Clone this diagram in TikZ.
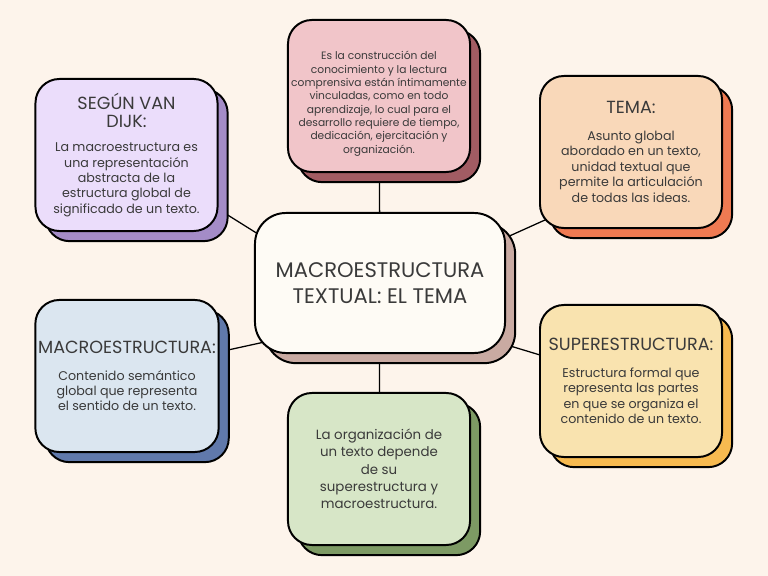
\documentclass[tikz,border=0pt]{standalone}
\usepackage{fontspec}
\setmainfont{Poppins}
\usetikzlibrary{shadows}
\definecolor{Paper}{HTML}{FDF4EB}
\definecolor{Ink}{HTML}{3A3A3A}
\definecolor{PinkCard}{HTML}{F1C5C9}
\definecolor{PinkBack}{HTML}{A25C63}
\definecolor{LilacCard}{HTML}{EBDDFB}
\definecolor{LilacBack}{HTML}{A48CC7}
\definecolor{PeachCard}{HTML}{F9D8B9}
\definecolor{PeachBack}{HTML}{EF7A52}
\definecolor{IvoryCard}{HTML}{FEFBF5}
\definecolor{IvoryBack}{HTML}{C9AAA2}
\definecolor{BlueCard}{HTML}{DBE6F0}
\definecolor{BlueBack}{HTML}{6079AB}
\definecolor{SandCard}{HTML}{F9E3AF}
\definecolor{SandBack}{HTML}{F7BA50}
\definecolor{SageCard}{HTML}{D7E6C7}
\definecolor{SageBack}{HTML}{7D9A64}
\pgfdeclarelayer{paper}
\pgfdeclarelayer{links}
\pgfsetlayers{paper,links,main}
\newcommand{\cardhead}{\fontsize{12.5}{13.5}\selectfont}

\begin{document}
\begin{tikzpicture}[
    x=0.025cm, y=-0.025cm,
    card/.style={draw=black, line width=1.4pt, rounded corners=17pt,
        minimum width=4.55cm, minimum height=3.8cm, inner sep=2pt,
        align=center, text=Ink, font=\fontsize{9}{11}\selectfont},
    cardback/.style={copy shadow={shadow xshift=7.2pt, shadow yshift=-7.2pt,
        fill=#1, draw=black, line width=1.4pt}},
    link/.style={draw=black, line width=0.9pt}
]
\begin{pgfonlayer}{paper}
    \fill[Paper] (0,0) rectangle (768,576);
\end{pgfonlayer}
\useasboundingbox (0,0) rectangle (768,576);

% centre
\node[card, cardback=IvoryBack, fill=IvoryCard, minimum width=6.25cm, minimum height=3.5cm,
      rounded corners=22pt, font=\fontsize{15}{18}\selectfont] (tema) at (380,283)
    {MACROESTRUCTURA\\TEXTUAL: EL TEMA};

% cards around it
\node[card, cardback=PinkBack, fill=PinkCard, font=\fontsize{7.6}{9.5}\selectfont] (lectura) at (379,96)
    {\rule{0pt}{17pt}Es la construcción del\\conocimiento y la lectura\\comprensiva están íntimamente\\vinculadas, como en todo\\aprendizaje, lo cual para el\\desarrollo requiere de tiempo,\\dedicación, ejercitación y\\organización.};
\node[card, cardback=LilacBack, fill=LilacCard] (vandijk) at (126.5,155)
    {\cardhead SEGÚN VAN\\[2pt]\cardhead DIJK:\\[6pt]La macroestructura es\\una representación\\abstracta de la\\estructura global de\\significado de un texto.};
\node[card, cardback=PeachBack, fill=PeachCard] (asunto) at (631,152)
    {\cardhead TEMA:\\[8pt]Asunto global\\abordado en un texto,\\unidad textual que\\permite la articulación\\de todas las ideas.};
\node[card, cardback=BlueBack, fill=BlueCard] (macro) at (127,376)
    {\cardhead MACROESTRUCTURA:\\[8pt]Contenido semántico\\global que representa\\el sentido de un texto.};
\node[card, cardback=SandBack, fill=SandCard] (super) at (631,381)
    {\cardhead SUPERESTRUCTURA:\\[8pt]Estructura formal que\\representa las partes\\en que se organiza el\\contenido de un texto.};
\node[card, cardback=SageBack, fill=SageCard, font=\fontsize{9.5}{12.3}\selectfont] (organiza) at (379,469)
    {La organización de\\un texto depende\\de su\\superestructura y\\macroestructura.};

% connectors under the cards
\begin{pgfonlayer}{links}
    \draw[link] (lectura.center) -- (tema.center);
    \draw[link] (organiza.center) -- (tema.center);
    \draw[link] ([shift={(74,43)}]vandijk.center) -- ([shift={(-98,-34)}]tema.center);
    \draw[link] ([shift={(-46,50)}]asunto.center) -- ([shift={(85,-27)}]tema.center);
    \draw[link] ([shift={(69,-19)}]macro.center) -- ([shift={(-88,53)}]tema.center);
    \draw[link] ([shift={(-58,-16)}]super.center) -- ([shift={(94,52)}]tema.center);
\end{pgfonlayer}
\end{tikzpicture}
\end{document}
